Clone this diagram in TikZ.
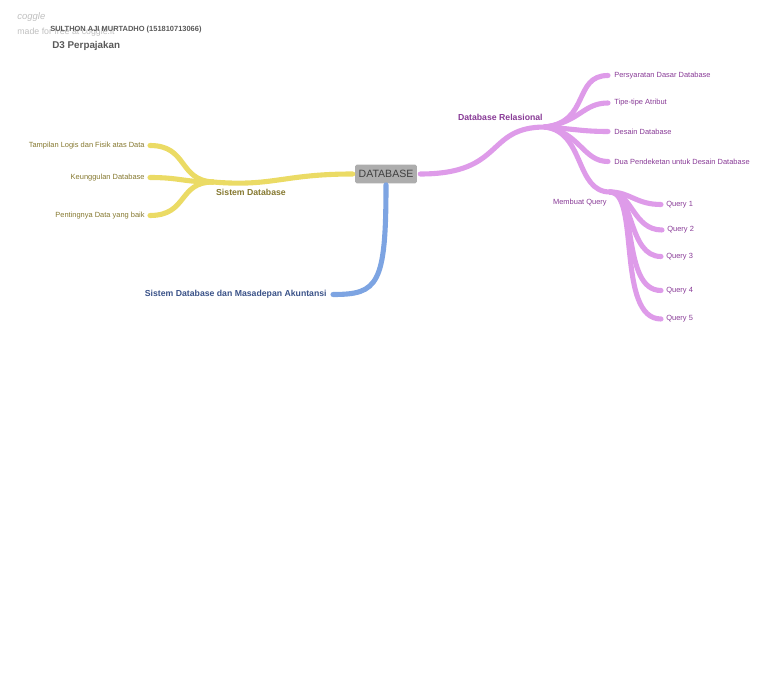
\documentclass[tikz,border=0pt]{standalone}
\usepackage{fontspec}
\setmainfont{Liberation Sans}
\definecolor{yellowline}{HTML}{EBDB65}
\definecolor{yellowtext}{HTML}{85782F}
\definecolor{purpleline}{HTML}{DE9BE9}
\definecolor{purpletext}{HTML}{883A96}
\definecolor{blueline}{HTML}{7DA4E2}
\definecolor{bluetext}{HTML}{3A5288}
\tikzset{
	leaf/.style={inner sep=0pt, font=\fontsize{4.25}{5}\selectfont},
	topic/.style={inner sep=0pt, font=\fontsize{4.95}{6}\selectfont\bfseries},
	branch/.style={line width=2.9pt, line cap=round},
}
\begin{document}
\begin{tikzpicture}[x=0.02cm,y=-0.02cm]
	\useasboundingbox (0,0) rectangle (768,686);

	% heading
	\node [text=black!25, inner sep=0pt, anchor=west, font=\fontsize{5.4}{7}\selectfont\itshape] (logo) at (17,17) {coggle};
	\node [text=black!25, inner sep=0pt, anchor=west, font=\fontsize{5}{6}\selectfont] (madefor) at (17,32) {made for free at coggle.it};
	\node [text=black!65, inner sep=0pt, anchor=west, font=\fontsize{4.25}{5}\selectfont\bfseries] (author) at (50,30) {SULTHON AJI MURTADHO (151810713066)};
	\node [text=black!65, inner sep=0pt, anchor=west, font=\fontsize{5.6}{7}\selectfont\bfseries] (course) at (52,46) {D3 Perpajakan};

	% centre and junctions
	\node [fill=black!32, rounded corners=1pt, minimum width=35.2pt, minimum height=10.8pt, inner sep=0pt, text=black!75, font=\fontsize{6}{7}\selectfont] (database) at (386,174) {DATABASE};
	\coordinate (sistemhub) at (213,182);
	\coordinate (relasionalhub) at (545,127);
	\coordinate (queryhub) at (610,192);

	% yellow side
	\node [topic, text=yellowtext] (sistem) at (251,192.5) {Sistem Database};
	\node [leaf, text=yellowtext, anchor=east] (tampilan) at (145,145.5) {Tampilan Logis dan Fisik atas Data};
	\node [leaf, text=yellowtext, anchor=east] (keunggulan) at (145,177.5) {Keunggulan Database};
	\node [leaf, text=yellowtext, anchor=east] (pentingnya) at (145,215.5) {Pentingnya Data yang baik};

	\draw [branch, yellowline] (database.west) ++(-2,0) coordinate (dbwest) .. controls +(-70,0) and +(60,5) .. (sistemhub);
	\draw [branch, yellowline] (sistemhub) .. controls +(-35,-2) and +(38,0) .. ([xshift=5*0.02cm]tampilan.east);
	\draw [branch, yellowline] (sistemhub) .. controls +(-30,0) and +(30,0) .. ([xshift=5*0.02cm]keunggulan.east);
	\draw [branch, yellowline] (sistemhub) .. controls +(-35,0) and +(38,0) .. ([xshift=5*0.02cm]pentingnya.east);

	% blue side
	\node [topic, text=bluetext, anchor=east] (masadepan) at (327,294.5) {Sistem Database dan Masadepan Akuntansi};
	\draw [branch, blueline] ([yshift=-1*0.02cm]database.south) .. controls +(0,100) and +(45,0) .. ([xshift=6*0.02cm]masadepan.east);

	% purple side
	\node [topic, text=purpletext, anchor=east] (relasional) at (543,117.5) {Database Relasional};
	\node [leaf, text=purpletext, anchor=west] (persyaratan) at (614,75.5) {Persyaratan Dasar Database};
	\node [leaf, text=purpletext, anchor=west] (atribut) at (614,103) {Tipe-tipe Atribut};
	\node [leaf, text=purpletext, anchor=west] (desain) at (614,131.5) {Desain Database};
	\node [leaf, text=purpletext, anchor=west] (pendekatan) at (614,161.5) {Dua Pendeketan untuk Desain Database};
	\node [leaf, text=purpletext, anchor=east] (membuat) at (607,203) {Membuat Query};
	\node [leaf, text=purpletext, anchor=west] (query1) at (666,204.5) {Query 1};
	\node [leaf, text=purpletext, anchor=west] (query2) at (667,230) {Query 2};
	\node [leaf, text=purpletext, anchor=west] (query3) at (666,256.5) {Query 3};
	\node [leaf, text=purpletext, anchor=west] (query4) at (666,290.5) {Query 4};
	\node [leaf, text=purpletext, anchor=west] (query5) at (666,319) {Query 5};

	\draw [branch, purpleline] ([xshift=3*0.02cm]database.east) .. controls +(85,0) and +(-60,0) .. (relasionalhub);
	\draw [branch, purpleline] (relasionalhub) .. controls +(45,-5) and +(-35,0) .. ([xshift=-6*0.02cm]persyaratan.west);
	\draw [branch, purpleline] (relasionalhub) .. controls +(35,-5) and +(-25,0) .. ([xshift=-6*0.02cm]atribut.west);
	\draw [branch, purpleline] (relasionalhub) .. controls +(30,2) and +(-25,0) .. ([xshift=-6*0.02cm]desain.west);
	\draw [branch, purpleline] (relasionalhub) .. controls +(35,5) and +(-25,0) .. ([xshift=-6*0.02cm]pendekatan.west);
	\draw [branch, purpleline] (relasionalhub) .. controls +(40,5) and +(-35,0) .. (queryhub);
	\draw [branch, purpleline] (queryhub) .. controls +(20,0) and +(-25,0) .. ([xshift=-5*0.02cm]query1.west);
	\draw [branch, purpleline] (queryhub) .. controls +(22,0) and +(-29,0) .. ([xshift=-5*0.02cm]query2.west);
	\draw [branch, purpleline] (queryhub) .. controls +(24,0) and +(-33,0) .. ([xshift=-5*0.02cm]query3.west);
	\draw [branch, purpleline] (queryhub) .. controls +(28,0) and +(-40,0) .. ([xshift=-5*0.02cm]query4.west);
	\draw [branch, purpleline] (queryhub) .. controls +(30,0) and +(-45,0) .. ([xshift=-5*0.02cm]query5.west);
\end{tikzpicture}
\end{document}
